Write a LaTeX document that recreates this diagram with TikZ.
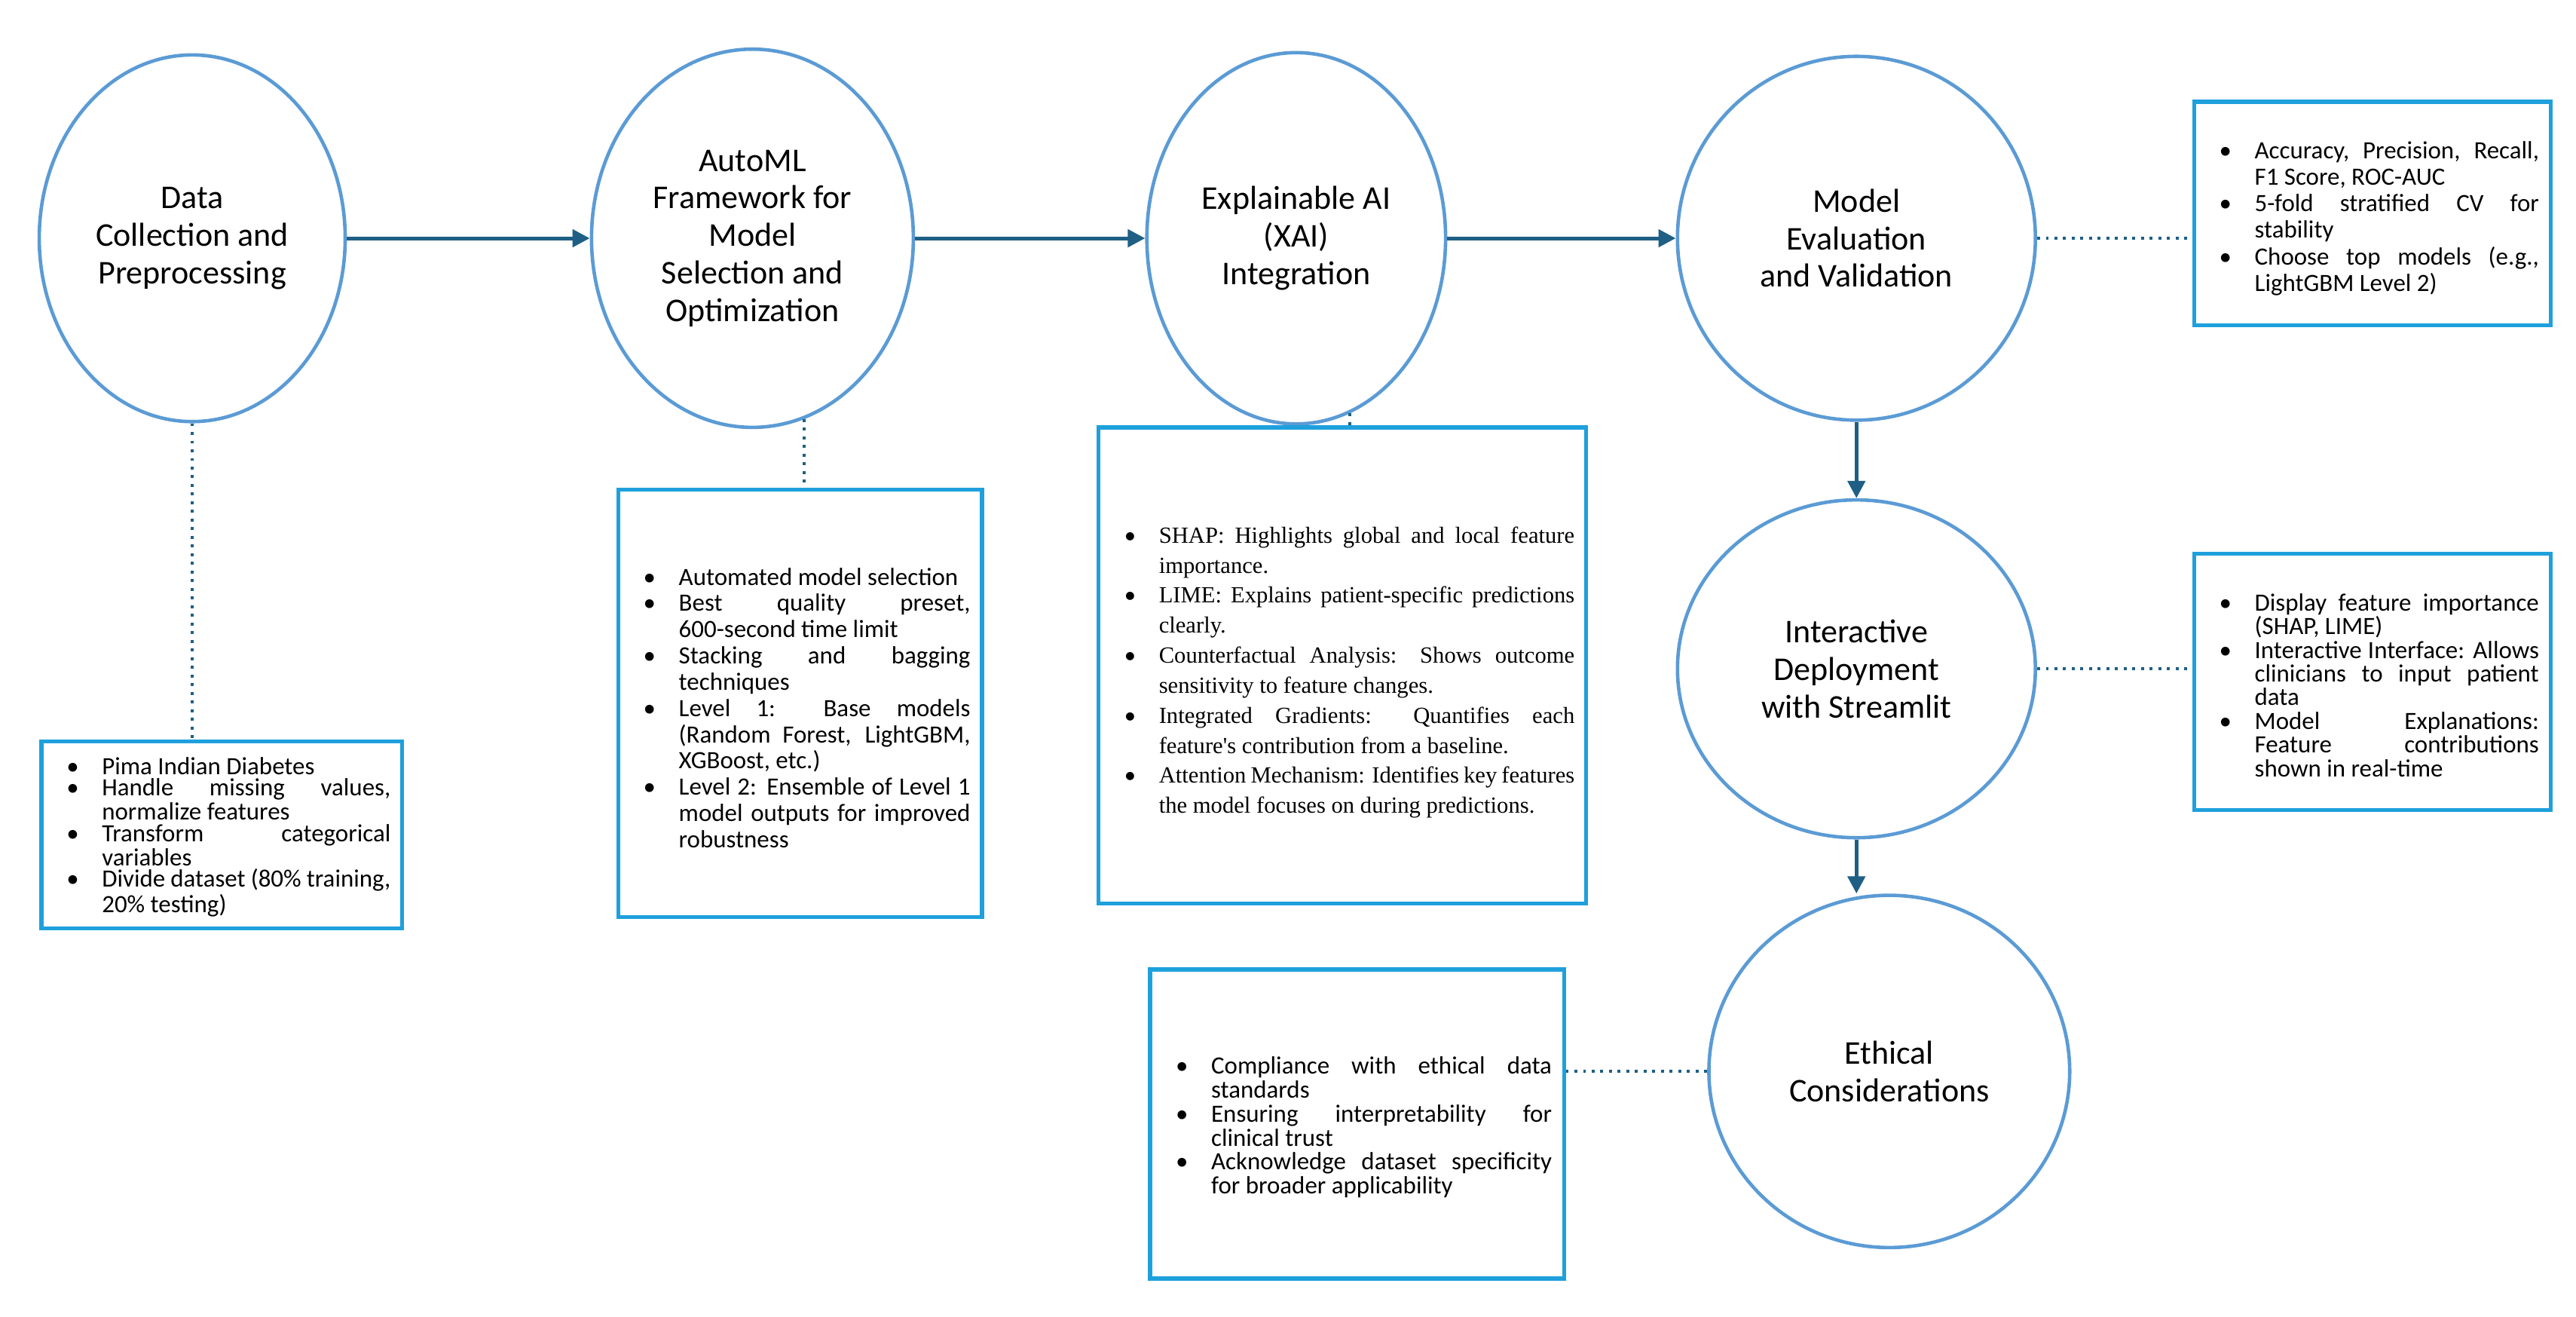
\documentclass[tikz,border=0pt]{standalone}
\usepackage{fontspec}
\setmainfont{Carlito}
\newfontfamily\serifb{Liberation Serif}
\usepackage{enumitem}
\usetikzlibrary{shapes.geometric,arrows.meta}
\definecolor{ell}{RGB}{91,155,213}
\definecolor{bx}{RGB}{30,160,220}
\definecolor{arr}{RGB}{31,95,133}
\newcommand{\blist}[1]{\hyphenpenalty=10000\exhyphenpenalty=10000\begin{itemize}[leftmargin=17pt,labelsep=8pt,itemsep=0pt,parsep=0pt,topsep=0pt,partopsep=0pt]#1\end{itemize}}
\begin{document}
\begin{tikzpicture}[x=0.02cm,y=0.02cm,
 el/.style={ellipse,draw=ell,line width=1.2pt,align=center,font=\fontsize{11.5}{13}\selectfont,inner sep=0pt},
 box/.style={draw=bx,line width=1.4pt,inner sep=4pt,font=\fontsize{8.6}{9.6}\selectfont,align=justify},
 ar/.style={draw=arr,line width=1.3pt,-{Triangle[length=6pt,width=6pt]}},
 dt/.style={draw=arr,line width=1pt,dotted}]
\useasboundingbox (0,0) rectangle (1568,801);
\node[el,minimum width=106pt,minimum height=127pt] (e1) at (117,656) {Data\\Collection and\\Preprocessing};
\node[el,minimum width=111.5pt,minimum height=131pt] (e2) at (458,656) {AutoML\\Framework for\\Model\\Selection and\\Optimization};
\node[el,minimum width=103.5pt,minimum height=128.6pt] (e3) at (789,656) {Explainable AI\\(XAI)\\Integration};
\node[el,minimum width=124pt,minimum height=126pt] (e4) at (1130,656) {Model\\Evaluation\\and Validation};
\node[el,minimum width=124pt,minimum height=117pt] (e5) at (1130,394) {Interactive\\Deployment\\with Streamlit};
\node[el,minimum width=125pt,minimum height=122pt] (e6) at (1150,149) {Ethical\\Considerations};

\node[box,text width=117pt,minimum width=125pt,minimum height=51pt] (b1) at (135,293) {\fontsize{8.6}{7.4}\selectfont\blist{\item Pima Indian Diabetes \item Handle missing values, normalize features \item Transform categorical variables \item Divide dataset (80\% training, 20\% testing)}};
\node[box,text width=118pt,minimum width=126pt,minimum height=148pt] (b2) at (487,373) {\fontsize{8.6}{9.1}\selectfont\blist{\item Automated model selection \item Best quality preset, 600-second time limit \item Stacking and bagging techniques \item Level 1: Base models (Random Forest, LightGBM, XGBoost, etc.) \item Level 2: Ensemble of Level 1 model outputs for improved robustness}};
\node[box,text width=161pt,minimum width=169pt,minimum height=165pt] (b3) at (817,396) {\serifb\fontsize{8}{10.4}\selectfont\blist{\item SHAP: Highlights global and local feature importance. \item LIME: Explains patient-specific predictions clearly. \item Counterfactual Analysis: Shows outcome sensitivity to feature changes. \item Integrated Gradients: Quantifies each feature's contribution from a baseline. \item Attention Mechanism: Identifies key features the model focuses on during predictions.}};
\node[box,text width=115.5pt,minimum width=123.5pt,minimum height=77.4pt] (b4) at (1444,671) {\fontsize{8.6}{9.2}\selectfont\blist{\item Accuracy, Precision, Recall, F1 Score, ROC-AUC \item 5-fold stratified CV for stability \item Choose top models (e.g., LightGBM Level 2)}};
\node[box,text width=115.5pt,minimum width=123.5pt,minimum height=88.8pt] (b5) at (1444,386) {\fontsize{8.6}{8.2}\selectfont\blist{\item Display feature importance (SHAP, LIME) \item Interactive Interface: Allows clinicians to input patient data \item Model Explanations: Feature contributions shown in real-time}};
\node[box,text width=135pt,minimum width=143.4pt,minimum height=107pt] (b6) at (826,117) {\fontsize{8.6}{8.3}\selectfont\blist{\item Compliance with ethical data standards \item Ensuring interpretability for clinical trust \item Acknowledge dataset specificity for broader applicability}\vspace{38pt}};

\draw[ar] (e1) -- (e2);
\draw[ar] (e2) -- (e3);
\draw[ar] (e3) -- (e4);
\draw[ar] (e4.south) -- (e5.north);
\draw[ar] (e5.south) -- (e5.south |- e6.north);
\draw[dt] (e1.south) -- (e1.south |- b1.north);
\draw[dt] (e2.-74) -- (e2.-74 |- b2.north);
\draw[dt] (e3.-73) -- (e3.-73 |- b3.north);
\draw[dt] (e4.east) -- (e4.east -| b4.west);
\draw[dt] (e5.east) -- (e5.east -| b5.west);
\draw[dt] (e6.west) -- (e6.west -| b6.east);
\end{tikzpicture}
\end{document}
